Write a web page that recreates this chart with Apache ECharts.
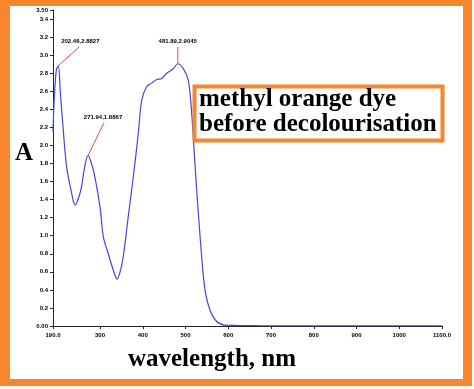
<!DOCTYPE html>
<html><head><meta charset="utf-8">
<script src="https://cdn.jsdelivr.net/npm/echarts@6/dist/echarts.min.js"></script>
<style>html,body{margin:0;padding:0;background:#fff}#c{width:474px;height:389px}</style>
</head><body><div id="c"></div>
<script>
// wavelength (nm) and absorbance values
const wavelength = [190,192,195,198,202.46,207,214,222,233.7,241.5,250,257,264,271.94,280,288,300,307.7,319.4,331,339.7,347,354.4,366,377.8,389.5,397.5,409,421,432.6,444.3,456,471.4,481.89,494.8,506.5,514.4,522,530,537.8,545.6,557,573,592,620,660,700,800,900,1000,1100];
const absorbance = [2.15,2.42,2.68,2.84,2.8827,2.6,2.17,1.76,1.47,1.34,1.42,1.55,1.76,1.8867,1.8,1.65,1.32,0.99,0.80,0.62,0.52,0.6,0.77,1.21,1.65,2.13,2.50,2.65,2.69,2.73,2.74,2.80,2.85,2.9045,2.85,2.72,2.36,1.80,1.25,0.77,0.40,0.18,0.05,0.01,0.006,0.004,0.002,0.001,0.001,0.001,0.001];
const peakX = [202.46, 271.94, 481.89];
const peakY = [2.8827, 1.8867, 2.9045];
const xTicks = [190,300,400,500,600,700,800,900,1000,1100];
const yTicks = [0,0.2,0.4,0.6,0.8,1.0,1.2,1.4,1.6,1.8,2.0,2.2,2.4,2.6,2.8,3.0,3.2,3.4,3.5];
const legendLines = ['methyl orange dye','before decolourisation'];

const orange = '#f7862d';
// pixel offsets of the leader line end and label centre from each peak
const leaderEnd = [[21,-19],[16,-33],[0,-17]];
const labelCenter = [[22,-24],[15,-38],[0,-22]];
const chart = echarts.init(document.getElementById('c'));
const lineData = wavelength.map((w,i)=>[w,absorbance[i]]);
const peakData = peakX.map((w,i)=>[w,peakY[i]]);
chart.setOption({
  animation:false,
  backgroundColor:'#fff',
  grid:{left:53,right:32,top:10,bottom:63},
  xAxis:{type:'value',min:190,max:1100,
    axisLine:{lineStyle:{color:'#222',width:1}},
    axisTick:{customValues:xTicks,length:3,lineStyle:{color:'#222'}},
    axisLabel:{customValues:xTicks,fontSize:6,fontWeight:'bold',color:'#000',fontFamily:'Liberation Sans',margin:6,
      formatter:v=>(v===190||v===1100)?v.toFixed(1):String(v)},
    splitLine:{show:false}},
  yAxis:{type:'value',min:0,max:3.5,
    axisLine:{show:true,lineStyle:{color:'#222',width:1}},
    axisTick:{show:true,customValues:yTicks,length:3,lineStyle:{color:'#222'}},
    axisLabel:{customValues:yTicks,fontSize:6,fontWeight:'bold',color:'#000',fontFamily:'Liberation Sans',margin:5,
      formatter:v=>(Math.abs(v)<1e-9||Math.abs(v-3.5)<1e-9)?v.toFixed(2):v.toFixed(1)},
    splitLine:{show:false}},
  series:[
    {type:'line',data:lineData,showSymbol:false,smooth:0.35,lineStyle:{color:'#4646dc',width:1.2},z:3},
    {type:'custom',data:peakData,z:4,clip:false,
      renderItem:(params,api)=>{
        const i=params.dataIndex;
        const p=api.coord([api.value(0),api.value(1)]);
        const e=leaderEnd[i], c=labelCenter[i];
        return {type:'group',children:[
          {type:'line',shape:{x1:p[0],y1:p[1],x2:p[0]+e[0],y2:p[1]+e[1]},style:{stroke:'#e0504a',lineWidth:1}},
          {type:'text',x:p[0]+c[0],y:p[1]+c[1],style:{text:peakX[i].toFixed(2)+','+peakY[i].toFixed(4),
            font:'bold 6px "Liberation Sans"',fill:'#000',align:'center',verticalAlign:'middle'}}
        ]};
      }}
  ],
  graphic:[
    {type:'rect',shape:{x:0,y:0,width:472,height:6},style:{fill:orange}},
    {type:'rect',shape:{x:0,y:0,width:10,height:386},style:{fill:orange}},
    {type:'rect',shape:{x:463,y:0,width:9,height:386},style:{fill:orange}},
    {type:'rect',shape:{x:0,y:379,width:472,height:7},style:{fill:orange}},
    {type:'rect',shape:{x:194.5,y:86.5,width:248,height:54},style:{fill:'#fff',stroke:orange,lineWidth:4},z:10},
    {type:'text',x:199,y:87,z:11,style:{text:legendLines.join('\n'),font:'bold 25px "Liberation Serif"',fill:'#000',lineHeight:25}},
    {type:'text',x:24,y:154,z:11,style:{text:'A',font:'bold 25px "Liberation Serif"',fill:'#000',align:'center',verticalAlign:'middle'}},
    {type:'text',x:212,y:360,z:11,style:{text:'wavelength, nm',font:'bold 25px "Liberation Serif"',fill:'#000',align:'center',verticalAlign:'middle'}}
  ]
});
</script></body></html>
